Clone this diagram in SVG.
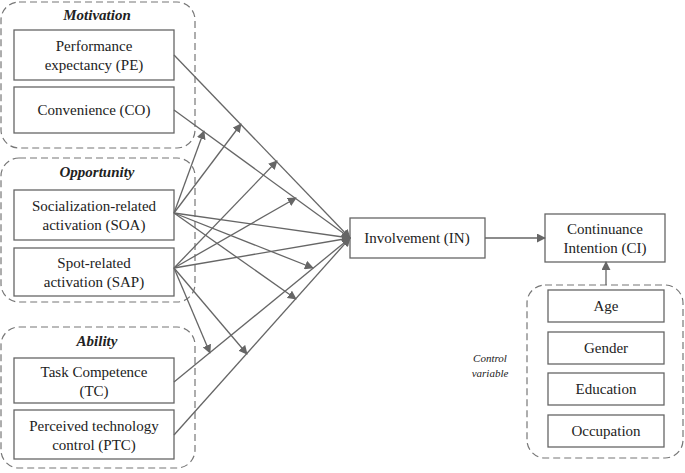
<svg xmlns="http://www.w3.org/2000/svg" width="685" height="473" viewBox="0 0 685 473">
<defs>
<style>
.box{fill:#fff;stroke:#666;stroke-width:1.3}
.grp{fill:none;stroke:#777;stroke-width:1.2;stroke-dasharray:7,4}
.t{font-family:"Liberation Serif",serif;font-size:15px;fill:#222;text-anchor:middle}
.h{font-family:"Liberation Serif",serif;font-size:15px;font-weight:bold;font-style:italic;fill:#222;text-anchor:middle}
.c{font-family:"Liberation Serif",serif;font-size:11px;font-style:italic;fill:#222;text-anchor:middle}
.l{stroke:#666;stroke-width:1.3;fill:none;marker-end:url(#a)}
</style>
<marker id="a" viewBox="0 0 10 10" refX="9" refY="5" markerWidth="9" markerHeight="9" markerUnits="userSpaceOnUse" orient="auto"><path d="M0,0L10,5L0,10z" fill="#666"/></marker>
</defs>
<g id="motivation"><rect class="grp" x="1" y="2" width="194" height="146" rx="18"/><text class="h" x="97" y="20">Motivation</text></g>
<g id="opportunity"><rect class="grp" x="1" y="158" width="194" height="144" rx="18"/><text class="h" x="97" y="177">Opportunity</text></g>
<g id="ability"><rect class="grp" x="1" y="327" width="194" height="141" rx="18"/><text class="h" x="97" y="346">Ability</text></g>
<g id="control"><rect class="grp" x="527" y="285" width="156" height="173" rx="18"/><text class="c" x="490" y="362">Control</text><text class="c" x="490" y="377">variable</text></g>
<g id="PE"><rect class="box" x="14" y="30" width="160" height="50"/><text class="t" x="94" y="51">Performance</text><text class="t" x="94" y="70">expectancy (PE)</text></g>
<g id="CO"><rect class="box" x="14" y="87" width="160" height="46"/><text class="t" x="94" y="115">Convenience (CO)</text></g>
<g id="SOA"><rect class="box" x="14" y="190" width="160" height="50"/><text class="t" x="94" y="211">Socialization-related</text><text class="t" x="94" y="230">activation (SOA)</text></g>
<g id="SAP"><rect class="box" x="14" y="248" width="160" height="48"/><text class="t" x="94" y="268">Spot-related</text><text class="t" x="94" y="287">activation (SAP)</text></g>
<g id="TC"><rect class="box" x="14" y="358" width="160" height="45"/><text class="t" x="94" y="377">Task Competence</text><text class="t" x="94" y="396">(TC)</text></g>
<g id="PTC"><rect class="box" x="14" y="410" width="160" height="49"/><text class="t" x="94" y="431">Perceived technology</text><text class="t" x="94" y="450">control (PTC)</text></g>
<g id="IN"><rect class="box" x="350" y="218" width="135" height="40"/><text class="t" x="417" y="243">Involvement (IN)</text></g>
<g id="CI"><rect class="box" x="545" y="214" width="120" height="48"/><text class="t" x="605" y="234">Continuance</text><text class="t" x="605" y="253">Intention (CI)</text></g>
<g id="Age"><rect class="box" x="548" y="290" width="116" height="32"/><text class="t" x="606" y="311">Age</text></g>
<g id="Gender"><rect class="box" x="548" y="332" width="116" height="32"/><text class="t" x="606" y="353">Gender</text></g>
<g id="Education"><rect class="box" x="548" y="373" width="116" height="32"/><text class="t" x="606" y="394">Education</text></g>
<g id="Occupation"><rect class="box" x="548" y="415" width="116" height="32"/><text class="t" x="606" y="436">Occupation</text></g>
<g id="connectors">
<path class="l" d="M174,55L350,238"/>
<path class="l" d="M174,110L350,238"/>
<path class="l" d="M174,213L350,238"/>
<path class="l" d="M174,268L350,238"/>
<path class="l" d="M174,382L350,238"/>
<path class="l" d="M174,435L350,238"/>
<path class="l" d="M174,213L204,131"/>
<path class="l" d="M174,213L241,124"/>
<path class="l" d="M174,268L277,161"/>
<path class="l" d="M174,268L296,198"/>
<path class="l" d="M174,213L313,268"/>
<path class="l" d="M174,213L296,299"/>
<path class="l" d="M174,268L210,353"/>
<path class="l" d="M174,268L247,354"/>
<path class="l" d="M485,238L545,238"/>
<path class="l" d="M606,285L606,262"/>
</g>
</svg>
